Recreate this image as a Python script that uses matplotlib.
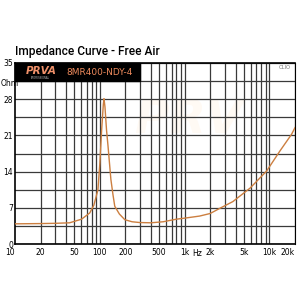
import numpy as np
from matplotlib import pyplot as plt
from matplotlib.patches import Rectangle
from matplotlib.transforms import blended_transform_factory

# ===== Dados =====

freq = [10, 20, 30, 44, 61, 76, 85, 90, 95, 100, 105, 110, 112, 115, 120, 125,
        135, 143, 150, 170, 197, 240, 295, 400, 558, 800, 1000, 1500, 2000,
        2600, 3700, 5900, 9250, 13300, 18200, 20000]
impedancia = [3.9, 3.95, 4.0, 4.1, 4.8, 6.0, 7.5, 9.0, 10.5, 15.5, 22.0, 27.0,
              28.1, 26.5, 22.0, 18.9, 12.5, 9.5, 7.3, 5.8, 4.7, 4.3, 4.15,
              4.1, 4.3, 4.8, 5.0, 5.4, 5.9, 6.9, 8.2, 10.8, 14.1, 18.0, 21.2, 22.5]

x_ticks = [10, 20, 50, 100, 200, 500, 1000, 2000, 5000, 10000, 20000]
x_labels = ['10', '20', '50', '100', '200', '500', '1k', '2k', '5k', '10k', '20k']
y_ticks = [0, 7, 14, 21, 28, 35]

grid_x = [d * m for d in [10, 100, 1000, 10000] for m in range(1, 10)
          if 10 < d * m <= 20000]
grid_y = np.arange(0, 35.01, 3.5)

# ===== Plotagem =====

fig = plt.figure(figsize=(3, 3), dpi=100)
ax = fig.add_axes([15/300, 56/300, 280/300, 181/300])

ax.set_xscale('log')
ax.set_xlim(10, 20000)
ax.set_ylim(0, 35)

for g in grid_x:
    ax.axvline(g, color='#3a3a3a', lw=0.9, zorder=1)
for g in grid_y:
    ax.axhline(g, color='#3a3a3a', lw=0.9, zorder=1)

# marca d'agua bem clara
ax.text(0.62, 0.68, 'PRV', transform=ax.transAxes, fontsize=34,
        fontweight='bold', style='italic', color='#fffaf4', ha='center',
        va='center', zorder=0)

ax.plot(freq, impedancia, color='#cc7f40', lw=1.0, zorder=3)

ax.set_xticks(x_ticks, x_labels)
ax.set_xticks([], minor=True)
ax.set_yticks(y_ticks, [str(v) for v in y_ticks])
ax.tick_params(length=0, labelsize=5.5, pad=3)
ax.tick_params(axis='y', pad=1.5)
xl = ax.get_xticklabels()
xl[0].set_ha('right')
xl[-1].set_ha('right')

for s in ['left', 'bottom', 'top']:
    ax.spines[s].set_linewidth(1.2)
ax.spines['right'].set_linestyle((0, (1, 1)))

trans = blended_transform_factory(ax.transData, ax.transAxes)
ax.text(1400, -0.025, 'Hz', transform=trans, fontsize=5.5, ha='center', va='top')

# cabecalho preto com o modelo
ax.add_patch(Rectangle((0, 0.9), 0.446, 0.1, transform=ax.transAxes,
                       color='black', zorder=4, clip_on=False))
ax.text(0.04, 0.955, 'PRVA', transform=ax.transAxes, fontsize=7.5,
        fontweight='bold', style='italic', color='#f0916a', va='center', zorder=5)
ax.text(0.055, 0.915, 'PROFESSIONAL', transform=ax.transAxes, fontsize=1.8,
        color='#bbbbbb', va='center', zorder=5)
ax.text(0.185, 0.95, '8MR400-NDY-4', transform=ax.transAxes, fontsize=6.5,
        color='#ee8a5c', va='center', zorder=5)
ax.text(0.985, 0.975, 'CLIO', transform=ax.transAxes, fontsize=3.8,
        color='#777777', ha='right', va='center', zorder=5)

fig.text(1/300, 1 - 84/300, 'Ohm', fontsize=5.5, va='center')
fig.text(15/300, 1 - 52/300, 'Impedance Curve - Free Air', fontsize=8.6,
         family='Roboto', fontweight='medium', va='center')

fig.savefig('out.png', dpi=100)
